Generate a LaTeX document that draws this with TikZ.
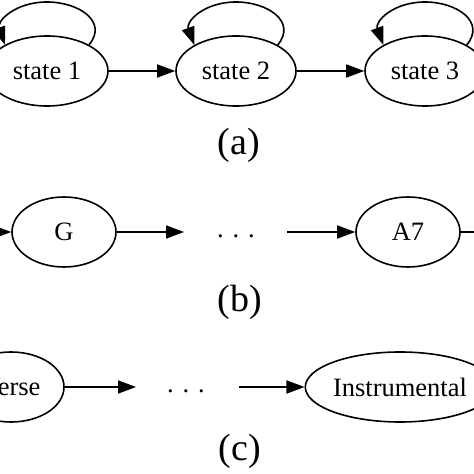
\documentclass[tikz,border=0pt]{standalone}
\usepackage{fontspec}
\setmainfont{Liberation Serif}
\usetikzlibrary{arrows.meta,shapes.geometric}
\begin{document}
\begin{tikzpicture}[x=1pt,y=1pt,
  stnode/.style={draw=black, line width=1.6pt, ellipse, inner sep=0pt,
    minimum height=70pt, font=\fontsize{26.5}{26.5}\selectfont},
  dotnode/.style={inner sep=0pt, font=\fontsize{26.5}{26.5}\selectfont},
  captionnode/.style={inner sep=0pt, font=\fontsize{38}{38}\selectfont},
  arr/.style={line width=1.6pt, -{Triangle[length=18pt,width=13pt]}},
]
\useasboundingbox (0,0) rectangle (474,474);
% (a)
\node[stnode, minimum width=122pt] (s1) at (47,403) {state 1};
\node[stnode, minimum width=120pt] (s2) at (236,403) {state 2};
\node[stnode, minimum width=120pt] (s3) at (425,403) {state 3};
\coordinate (l1) at (47,472);
\coordinate (l2) at (236,472);
\coordinate (l3) at (425,472);
\draw[arr] (s1) -- (s2);
\draw[arr] (s2) -- (s3);
\foreach \n/\l in {s1/l1, s2/l2, s3/l3}{
  \draw[arr] (\n.32) .. controls +(50:30) and +(0:32) .. (\l)
             .. controls +(180:32) and +(110:25) .. (\n.148);
}
\node[captionnode] (ca) at (239,329) {(a)};
% (b)
\coordinate (gin) at (-20,242);
\node[stnode, minimum width=104pt] (g) at (64,242) {G};
\coordinate (gout) at (184,242);
\node[dotnode] (db) at (236,238) {. . .};
\coordinate (ain) at (287,242);
\node[stnode, minimum width=104pt] (a7) at (408,242) {A7};
\coordinate (aout) at (520,242);
\draw[arr] (gin) -- (g);
\draw[arr] (g) -- (gout);
\draw[arr] (ain) -- (a7);
\draw[arr] (a7) -- (aout);
\node[captionnode] (cb) at (240,172) {(b)};
% (c)
\node[stnode, minimum width=106pt] (v) at (11,87) {Verse};
\coordinate (vout) at (136,87);
\node[dotnode] (dc) at (186,83) {. . .};
\coordinate (iin) at (239,87);
\node[stnode, minimum width=183pt] (ins) at (400,87) {Instrumental};
\draw[arr] (v) -- (vout);
\draw[arr] (iin) -- (ins);
\node[captionnode] (cc) at (240,23) {(c)};
\end{tikzpicture}
\end{document}
